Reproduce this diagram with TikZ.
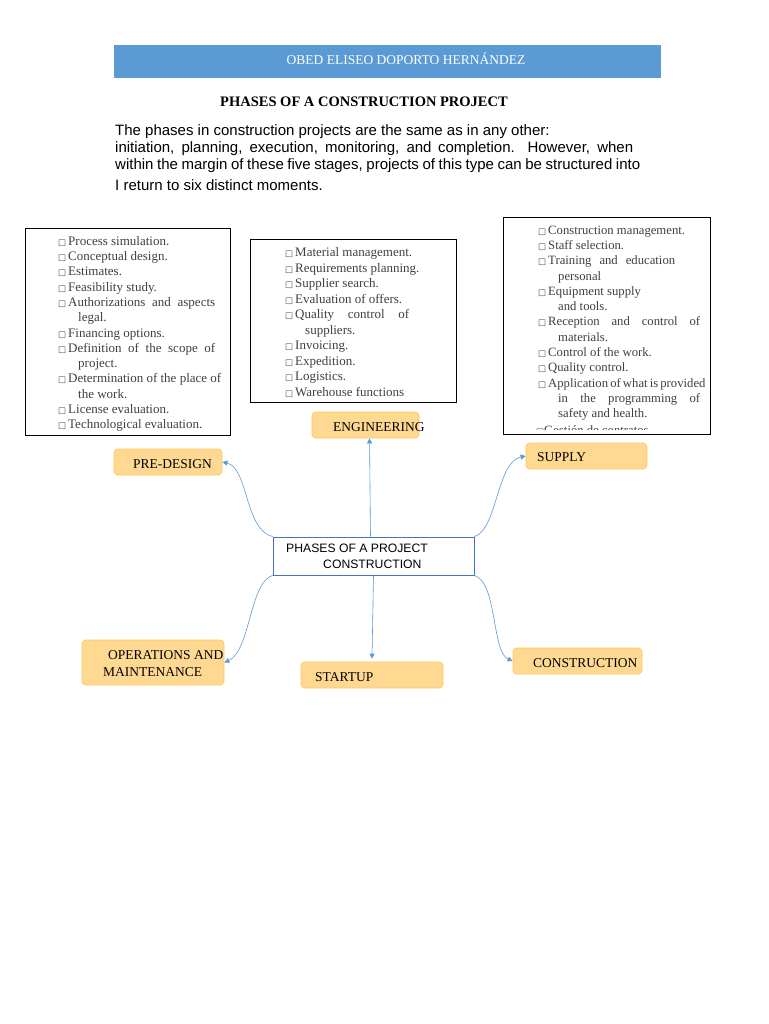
\documentclass[tikz,border=0pt]{standalone}
\usepackage{fontspec}
\setmainfont{Liberation Serif}
\newfontfamily\docsans{Liberation Sans}
\newfontfamily\boxglyph{DejaVu Sans}
\usetikzlibrary{arrows.meta,positioning}
\definecolor{bannerblue}{HTML}{5B9BD5}
\definecolor{linkblue}{HTML}{5B9BD5}
\definecolor{hubblue}{HTML}{4472C4}
\definecolor{phasefill}{HTML}{FFD892}
\definecolor{phaseline}{HTML}{FFC95C}
\definecolor{listgray}{HTML}{404040}
\newcommand{\bx}{\makebox[10pt][l]{\boxglyph\fontsize{8.5}{8.5}\selectfont □}}
\newcommand{\jl}[2]{\makebox[#1][s]{#2}}
\newcommand{\ind}{\hspace*{20pt}}
\tikzset{
  listbox/.style={draw=black, line width=0.9pt, inner sep=0pt},
  listtext/.style={anchor=north west, inner sep=0pt, align=left, text=listgray,
    font=\fontsize{13}{15.3}\selectfont},
  phase/.style={draw=phaseline, fill=phasefill, rounded corners=4pt, line width=0.8pt,
    inner sep=0pt, minimum height=26pt},
  phasetext/.style={anchor=west, inner sep=0pt, font=\fontsize{13.5}{15}\selectfont},
  hubtext/.style={anchor=west, inner sep=0pt, font=\docsans\fontsize{12.2}{14}\selectfont},
  para/.style={anchor=west, inner sep=0pt, font=\docsans\fontsize{15}{18}\selectfont},
  link/.style={draw=linkblue, line width=0.6pt, -{Triangle[width=5pt,length=5pt]}},
}
\begin{document}
\begin{tikzpicture}[x=1pt, y=-1pt]
  \useasboundingbox[fill=white] (0,0) rectangle (768,1024);
  % heading
  \node[fill=bannerblue, minimum width=547pt, minimum height=33pt, inner sep=0pt] (banner) at (387.5,61.5) {};
  \node[text=white, inner sep=0pt, font=\fontsize{13.5}{15}\selectfont] (author) at (406,59) {OBED ELISEO DOPORTO HERNÁNDEZ};
  \node[inner sep=0pt, font=\bfseries\fontsize{14.5}{16}\selectfont] (title) at (364,102) {PHASES OF A CONSTRUCTION PROJECT};
  \node[para] (intro1) at (115,132) {The phases in construction projects are the same as in any other:};
  \node[para] (intro2) at (115,149) {\jl{518pt}{initiation, planning, execution, monitoring, and completion. However, when}};
  \node[para] (intro3) at (115,166) {\jl{525pt}{within the margin of these five stages, projects of this type can be structured into}};
  \node[para] (intro4) at (115,185) {I return to six distinct moments.};
  % task lists
  \node[listbox, minimum width=205pt, minimum height=207pt] (predesignlist) at (127.5,331.5) {};
  \node[listtext] (predesigntasks) at (58,236) {%
    \bx Process simulation.\\
    \bx Conceptual design.\\
    \bx Estimates.\\
    \bx Feasibility study.\\
    \bx\jl{147pt}{Authorizations and aspects}\\
    \ind legal.\\
    \bx Financing options.\\
    \bx\jl{147pt}{Definition of the scope of}\\
    \ind project.\\
    \bx Determination of the place of\\
    \ind the work.\\
    \bx License evaluation.\\
    \bx Technological evaluation.};
  \node[listbox, minimum width=206pt, minimum height=163pt] (engineeringlist) at (353,320.5) {};
  \node[listtext, font=\fontsize{13}{15.5}\selectfont] (engineeringtasks) at (285,247.5) {%
    \bx Material management.\\
    \bx Requirements planning.\\
    \bx Supplier search.\\
    \bx Evaluation of offers.\\
    \bx\jl{114pt}{Quality control of}\\
    \ind suppliers.\\
    \bx Invoicing.\\
    \bx Expedition.\\
    \bx Logistics.\\
    \bx Warehouse functions};
  \node[listbox, minimum width=207pt, minimum height=217pt] (supplylist) at (606.5,325.5) {};
  \begin{scope}
    \clip (supplylist.north west) rectangle ([yshift=5pt]supplylist.south east);
    \node[listtext, font=\fontsize{12.7}{15.3}\selectfont] (supplytasks) at (538,225.5) {%
      \bx Construction management.\\
      \bx Staff selection.\\
      \bx\jl{127pt}{Training and education}\\
      \ind personal\\
      \bx Equipment supply\\
      \ind and tools.\\
      \bx\jl{152pt}{Reception and control of}\\
      \ind materials.\\
      \bx Control of the work.\\
      \bx Quality control.\\
      \bx\jl{152pt}{Application of what is provided}\\
      \ind\jl{142pt}{in the programming of}\\
      \ind safety and health.\\[1.5pt]
      \hspace*{-2pt}{\boxglyph\fontsize{8.5}{8.5}\selectfont □}Gestión de contratos};
  \end{scope}
  % phases
  \node[phase, minimum width=107pt] (engineering) at (365.5,425) {};
  \node[phasetext] at (333,427) {ENGINEERING};
  \node[phase, minimum width=108pt] (predesign) at (168,462) {};
  \node[phasetext] at (133,464) {PRE-DESIGN};
  \node[phase, minimum width=121pt] (supply) at (586.5,456) {};
  \node[phasetext] at (537,457) {SUPPLY};
  \node[draw=hubblue, fill=white, line width=0.8pt, minimum width=201pt, minimum height=38pt, inner sep=0pt] (hub) at (373.5,556) {};
  \node[hubtext] at (286,548) {PHASES OF A PROJECT};
  \node[hubtext] at (323,564) {CONSTRUCTION};
  \node[phase, minimum width=142pt, minimum height=45pt] (operations) at (153,662.5) {};
  \node[phasetext] at (108,655) {OPERATIONS AND};
  \node[phasetext] at (103,672) {MAINTENANCE};
  \node[phase, minimum width=142pt] (startup) at (372,675) {};
  \node[phasetext] at (315,677) {STARTUP};
  \node[phase, minimum width=129pt] (construction) at (577.5,661) {};
  \node[phasetext] at (533,663) {CONSTRUCTION};
  % links
  \begin{scope}[link]
    \draw ([xshift=-3pt]hub.north) -- ([xshift=4pt]engineering.south);
    \draw (hub.north west) .. controls +(-28,-7) and +(26,6) .. (predesign.east);
    \draw (hub.north east) .. controls +(23,-7) and +(-29,6) .. (supply.west);
    \draw (hub.south west) .. controls +(-23,7) and +(26,-12) .. (operations.east);
    \draw (hub.south) -- ([yshift=3pt]startup.north);
    \draw (hub.south east) .. controls +(23,7) and +(-21,-9) .. (construction.west);
  \end{scope}
\end{tikzpicture}
\end{document}
